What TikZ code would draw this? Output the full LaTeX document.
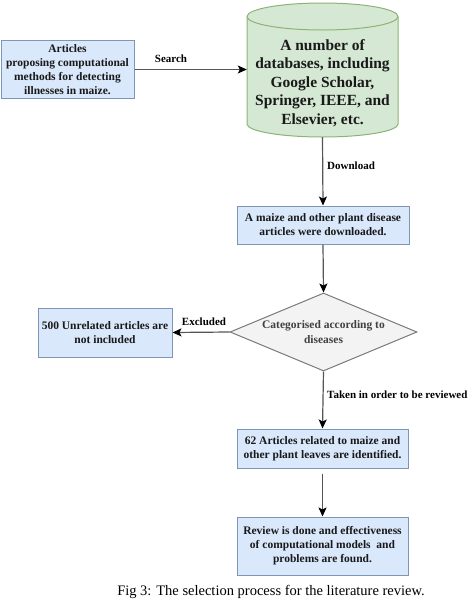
\documentclass[tikz,border=0pt]{standalone}
\usepackage{fontspec}
\setmainfont{Liberation Serif}
\usetikzlibrary{arrows.meta,shapes.geometric}
\definecolor{bfill}{HTML}{DAE8FC}
\definecolor{bdraw}{HTML}{7F95B5}
\definecolor{gfill}{HTML}{D5E8D4}
\definecolor{gdraw}{HTML}{8CB377}
\definecolor{dfill}{HTML}{F3F3F3}
\definecolor{ddraw}{HTML}{7A7A7A}
\definecolor{dtext}{HTML}{404040}
\definecolor{lcol}{HTML}{555555}
\tikzset{
  bluebox/.style={draw=bdraw, fill=bfill, line width=1pt, inner sep=0pt, align=center,
    font=\fontsize{11.5}{14}\selectfont\bfseries, text=black!90},
  lbl/.style={font=\fontsize{11}{13}\selectfont\bfseries, inner sep=0pt},
  conn/.style={draw=lcol, line width=1.2pt, -{Stealth[length=9pt,width=8pt,inset=2pt,color=black,fill=black]}},
}
\begin{document}
\begin{tikzpicture}[x=1pt,y=-1pt]
\useasboundingbox (0,0) rectangle (474,600);
\clip (0,0) rectangle (474,600);
% cylinder
\draw[draw=gdraw, fill=gfill, line width=1pt] (247,16.5) -- (247,124)
  arc[start angle=180, end angle=360, x radius=75.5pt, y radius=13pt] -- (398,16.5)
  arc[start angle=0, end angle=180, x radius=75.5pt, y radius=13.5pt] -- cycle;
\draw[draw=gdraw, line width=1pt] (247,16.5) arc[start angle=180, end angle=360, x radius=75.5pt, y radius=13.5pt];
\node[minimum width=151pt, minimum height=135pt, inner sep=0pt] (db) at (322.5,69.5) {};
\node[align=center, font=\fontsize{15.5}{18.5}\selectfont\bfseries, text=black!90] (dbtext) at (322.5,83)
  {A number of\\databases, including\\Google Scholar,\\Springer, IEEE, and\\Elsevier, etc.};
% boxes
\node[bluebox, minimum width=133pt, minimum height=58pt] (a1) at (67.5,69.5)
  {Articles\\proposing computational\\methods for detecting\\illnesses in maize.};
\node[bluebox, minimum width=172pt, minimum height=38pt] (b2) at (323,225)
  {A maize and other plant disease\\articles were downloaded.};
\node[draw=ddraw, fill=dfill, line width=1pt, diamond, minimum width=187pt, minimum height=78pt, inner sep=0pt] (d) at (323.5,332) {};
\node[align=center, font=\fontsize{11.5}{15}\selectfont\bfseries, text=dtext] (dtxt) at (323.5,332)
  {Categorised according to\\diseases};
\node[bluebox, minimum width=134pt, minimum height=49pt] (b3) at (105,332.5)
  {500 Unrelated articles are\\not included};
\node[bluebox, minimum width=171pt, minimum height=39pt] (b4) at (322.5,448.5)
  {62 Articles related to maize and\\other plant leaves are identified.};
\node[bluebox, minimum width=171pt, minimum height=58pt] (b5) at (322.5,546)
  {Review is done and effectiveness\\of computational models\ \ and\\problems are found.};
% connectors
\draw[conn] (a1.east) -- (db.west);
\draw[conn] (db.south) -- (b2.north);
\draw[conn] (b2.south) -- (d.north);
\draw[conn] (d.west) -- (b3.east);
\draw[conn] (d.south) -- (b4.north);
\draw[conn, shorten <=5pt] (b4.south) -- (b5.north);
% labels
\node[lbl] (ls) at (171,59) {Search};
\node[lbl, anchor=west] (ld) at (327,166) {Download};
\node[lbl] (le) at (204,322) {Excluded};
\node[lbl, anchor=west] (lt) at (327,395) {Taken in order to be reviewed};
% caption
\node[font=\fontsize{14.5}{17}\selectfont, anchor=base] (cap) at (271,595.5)
  {Fig 3: The selection process for the literature review.};
\end{tikzpicture}
\end{document}
